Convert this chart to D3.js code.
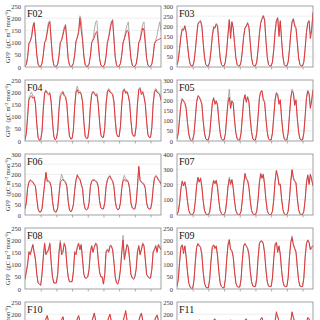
<!DOCTYPE html>
<html><head><meta charset="utf-8">
<script src="https://cdn.jsdelivr.net/npm/d3@7"></script>
<style>html,body{margin:0;padding:0;background:#fff;}svg{display:block;}</style>
</head><body>
<svg id="c" width="320" height="320"></svg>
<script>
// Monthly GPP (gC m-2 mon-1), 105 months per site; Obs = grey, Sim = red
const f02Obs = [3,10,42,98,108,128,170,185,125,50,12,2, 2,15,50,102,115,150,185,190,115,40,8,2, 3,12,45,100,112,140,165,175,110,35,8,2, 3,15,50,105,125,150,210,190,120,45,10,2, 3,12,45,100,115,150,185,190,110,38,8,2, 3,12,45,100,125,160,185,195,120,40,8,2, 3,14,50,100,120,150,170,185,110,35,8,2, 3,12,45,100,115,150,175,185,110,35,8,2, 3,12,45,98,110,130,160,185,150];
const f02Sim = [3,10,40,95,105,120,160,180,120,50,12,2, 2,15,50,100,110,140,175,185,110,40,8,2, 3,12,45,100,110,130,155,170,105,35,8,2, 3,15,50,105,120,140,200,150,110,45,10,2, 3,12,45,100,110,120,140,145,95,35,8,2, 3,12,45,100,120,150,180,190,115,40,8,2, 3,14,50,100,115,135,150,145,90,35,8,2, 3,12,45,100,110,135,160,150,95,35,8,2, 3,12,45,95,105,110,112,115,118];
const f03Obs = [10,35,92,155,190,185,205,175,112,50,15,5, 5,25,82,155,215,225,230,205,122,50,12,5, 5,25,82,152,200,195,215,205,122,45,12,5, 5,25,82,165,235,170,225,195,118,45,12,5, 5,25,82,155,195,205,220,200,122,45,12,5, 5,25,87,165,220,240,255,235,132,50,12,5, 5,25,87,175,230,245,180,230,132,50,12,5, 5,25,87,170,225,240,210,195,122,45,12,5, 5,25,92,175,220,230,160,190,265];
const f03Sim = [10,35,90,150,185,180,200,170,110,50,15,5, 5,25,80,150,210,220,225,200,120,50,12,5, 5,25,80,150,195,190,210,200,120,45,12,5, 5,25,80,160,230,140,220,190,115,45,12,5, 5,25,80,150,190,200,215,195,120,45,12,5, 5,25,85,160,215,235,250,230,130,50,12,5, 5,25,85,170,225,240,150,225,130,50,12,5, 5,25,85,165,220,235,200,190,120,45,12,5, 5,25,90,170,215,225,140,180,270];
const f04Obs = [5,30,105,180,190,200,185,185,155,70,15,3, 5,40,135,200,210,200,195,200,165,80,20,5, 10,40,135,190,200,205,190,185,155,75,20,8, 10,45,145,205,225,205,205,195,165,80,20,10, 12,50,145,195,205,200,190,195,155,80,25,15, 15,55,155,205,215,205,200,195,165,85,30,18, 18,60,155,210,215,200,205,190,160,85,30,20, 20,60,155,215,220,200,205,185,155,80,25,15, 15,55,155,205,215,205,200,195,170];
const f04Sim = [5,30,100,170,180,185,175,180,150,70,15,3, 5,40,130,195,205,195,190,195,160,80,20,5, 10,40,130,185,190,200,185,180,150,75,20,8, 10,45,140,200,210,195,200,190,160,80,20,10, 12,50,140,190,200,195,185,190,150,80,25,15, 15,55,150,200,210,200,195,190,160,85,30,18, 18,60,150,205,210,195,200,185,155,85,30,20, 20,60,150,210,215,190,200,180,150,80,25,15, 15,55,150,200,210,200,195,190,165];
const f05Obs = [10,40,112,185,210,200,190,165,92,35,8,2, 5,35,112,195,225,220,205,185,102,40,10,5, 5,35,112,190,215,190,200,180,102,40,10,5, 5,35,118,200,255,175,200,190,102,40,10,5, 5,40,122,205,230,200,220,195,112,45,10,5, 5,40,122,215,245,250,210,195,112,45,10,5, 5,40,122,205,240,230,190,205,112,45,10,5, 5,40,128,215,255,240,185,205,112,45,10,5, 5,40,122,215,250,235,170,205,255];
const f05Sim = [10,40,110,180,205,195,185,160,90,35,8,2, 5,35,110,190,220,215,200,180,100,40,10,5, 5,35,110,185,210,180,195,175,100,40,10,5, 5,35,115,190,215,160,195,185,100,40,10,5, 5,40,120,200,225,190,215,190,110,45,10,5, 5,40,120,210,240,245,200,190,110,45,10,5, 5,40,120,200,235,225,180,200,110,45,10,5, 5,40,125,210,245,235,175,200,110,45,10,5, 5,40,120,210,245,230,160,200,250];
const f06Obs = [30,62,135,165,175,170,165,155,142,80,30,15, 15,32,95,155,205,170,170,165,142,70,25,15, 15,37,105,170,200,180,170,165,142,70,25,15, 25,52,125,175,200,185,180,155,132,60,30,25, 30,62,142,170,175,175,170,165,142,70,35,30, 30,62,142,175,190,195,180,170,142,70,35,25, 30,62,135,175,195,175,175,165,132,60,35,30, 30,62,142,235,175,165,160,155,132,60,35,30, 30,62,135,185,195,190,175,170,155];
const f06Sim = [30,60,130,160,170,165,160,150,140,80,30,15, 15,30,90,150,210,165,165,160,140,70,25,15, 15,35,100,160,170,175,165,160,140,70,25,15, 25,50,120,170,195,180,175,150,130,60,30,25, 30,60,140,165,170,170,165,160,140,70,35,30, 30,60,140,170,185,190,175,165,140,70,35,25, 30,60,130,170,175,165,170,160,130,60,35,30, 30,60,140,240,170,160,155,150,130,60,35,30, 30,60,130,180,190,185,170,165,150];
const f07Obs = [5,20,82,175,225,195,220,172,92,30,8,2, 3,20,92,195,250,220,245,188,97,30,8,2, 3,20,92,185,230,210,230,182,92,30,8,2, 3,20,92,190,250,210,235,178,92,30,8,2, 3,25,102,205,275,240,230,182,97,30,8,2, 3,25,102,215,275,245,270,198,102,30,8,2, 3,25,102,225,295,260,205,205,107,35,8,2, 3,25,107,225,300,245,225,212,112,35,8,2, 3,25,102,215,265,210,270,235,195];
const f07Sim = [5,20,80,170,220,190,215,170,90,30,8,2, 3,20,90,190,245,215,240,185,95,30,8,2, 3,20,90,180,225,205,225,180,90,30,8,2, 3,20,90,185,235,200,230,175,90,30,8,2, 3,25,100,200,270,235,225,180,95,30,8,2, 3,25,100,210,270,240,265,195,100,30,8,2, 3,25,100,220,290,255,195,200,105,35,8,2, 3,25,105,220,295,240,220,210,110,35,8,2, 3,25,100,210,260,200,265,230,190];
const f08Obs = [40,72,105,155,145,165,185,155,122,60,25,20, 15,62,135,190,145,155,165,190,112,50,25,25, 25,62,155,200,150,155,190,175,102,50,30,30, 30,72,155,150,175,190,165,185,122,60,45,45, 50,82,155,180,155,175,190,185,122,70,50,50, 20,62,155,165,155,180,180,165,112,50,25,20, 40,82,155,220,130,155,185,175,122,60,45,40, 50,82,155,180,145,165,190,180,122,60,50,45, 45,82,155,165,180,155,185,175,162];
const f08Sim = [40,70,100,150,140,160,180,150,120,60,25,20, 15,60,130,185,140,150,160,185,110,50,25,25, 25,60,150,190,140,150,185,170,100,50,30,30, 30,70,150,140,170,185,160,180,120,60,45,45, 50,80,150,175,150,170,185,180,120,70,50,50, 20,60,150,160,150,175,175,160,110,50,25,20, 40,80,150,200,120,150,180,170,120,60,45,40, 50,80,150,175,140,160,185,175,120,60,50,45, 45,80,150,160,175,150,180,170,160];
const f09Obs = [10,42,112,175,182,160,178,135,72,25,8,3, 3,37,112,175,188,180,175,145,72,25,8,5, 5,42,118,175,182,170,178,140,72,25,10,5, 5,42,122,185,205,165,160,135,72,25,10,8, 8,42,122,180,188,178,170,145,77,30,12,10, 10,47,128,190,198,198,188,150,82,30,12,10, 10,47,128,185,192,160,178,145,77,30,12,10, 10,47,132,195,218,185,170,155,92,35,12,10, 10,47,132,190,202,192,165,175,178];
const f09Sim = [10,40,110,170,180,145,175,130,70,25,8,3, 3,35,110,170,185,175,170,140,70,25,8,5, 5,40,115,170,180,165,175,135,70,25,10,5, 5,40,120,180,200,160,155,130,70,25,10,8, 8,40,120,175,185,175,165,140,75,30,12,10, 10,45,125,185,195,195,185,145,80,30,12,10, 10,45,125,180,190,150,175,140,75,30,12,10, 10,45,130,190,210,180,165,150,90,35,12,10, 10,45,130,185,200,190,160,170,175];
const f10Obs = [10,42,112,155,165,172,168,142,82,30,10,5, 8,42,112,165,185,190,172,142,82,30,10,5, 8,42,112,165,180,188,168,142,82,30,10,5, 8,42,112,165,182,190,172,142,82,30,10,5, 8,42,118,170,190,200,178,148,82,30,10,5, 8,42,118,170,190,198,172,148,82,30,10,5, 8,47,122,175,195,205,178,152,87,30,10,5, 8,47,122,175,195,200,178,152,87,30,10,5, 8,47,122,175,190,198,178,152,92];
const f10Sim = [10,40,110,150,160,170,165,140,80,30,10,5, 8,40,110,160,180,195,170,140,80,30,10,5, 8,40,110,160,175,190,165,140,80,30,10,5, 8,40,110,160,180,195,170,140,80,30,10,5, 8,40,115,165,185,205,175,145,80,30,10,5, 8,40,115,165,185,200,170,145,80,30,10,5, 8,45,120,170,190,215,175,150,85,30,10,5, 8,45,120,170,190,205,175,150,85,30,10,5, 8,45,120,170,185,195,175,150,90];
const f11Obs = [5,32,102,155,168,172,162,132,72,25,8,3, 5,32,102,158,172,178,162,132,72,25,8,3, 5,32,102,158,178,182,168,132,72,25,8,3, 5,32,102,158,172,178,162,132,72,25,8,3, 5,32,108,162,178,182,168,138,72,25,8,3, 5,32,108,162,182,188,168,138,72,25,8,3, 5,37,112,172,200,192,172,142,77,25,8,3, 5,37,112,172,205,188,172,142,77,25,8,3, 5,37,112,168,188,182,172,142,82];
const f11Sim = [5,30,100,150,165,170,160,130,70,25,8,3, 5,30,100,155,170,175,160,130,70,25,8,3, 5,30,100,155,175,180,165,130,70,25,8,3, 5,30,100,155,170,175,160,130,70,25,8,3, 5,30,105,160,175,180,165,135,70,25,8,3, 5,30,105,160,180,185,165,135,70,25,8,3, 5,35,110,170,210,190,170,140,75,25,8,3, 5,35,110,170,210,185,170,140,75,25,8,3, 5,35,110,165,185,180,170,140,80];

const panelNames = ["F02","F03","F04","F05","F06","F07","F08","F09","F10","F11"];
const panelYMax  = [250,300,250,300,300,400,250,250,250,250];
const panelYStep = [50,50,50,50,50,100,50,50,50,50];
const obsSeries = [f02Obs,f03Obs,f04Obs,f05Obs,f06Obs,f07Obs,f08Obs,f09Obs,f10Obs,f11Obs];
const simSeries = [f02Sim,f03Sim,f04Sim,f05Sim,f06Sim,f07Sim,f08Sim,f09Sim,f10Sim,f11Sim];
const nMonths = 105;
const yLabel = "GPP  (gC m\u207B\u00B2 mon\u207B\u00B9)";

const svg = d3.select("#c");
svg.append("rect").attr("width",320).attr("height",320).attr("fill","#fff");
const serif = "'Liberation Serif','Times New Roman',serif";
const W = 136, H = 61;

panelNames.forEach((name,i)=>{
  const col = i%2, row = Math.floor(i/2);
  const x0 = col ? 177 : 25, y0 = 6 + row*74;
  const x = d3.scaleLinear().domain([0,nMonths-1]).range([x0,x0+W]);
  const y = d3.scaleLinear().domain([0,panelYMax[i]]).range([y0+H,y0]);
  const g = svg.append("g");
  const ticks = d3.range(0,panelYMax[i]+1,panelYStep[i]);
  // gridlines
  g.selectAll("line.grid").data(ticks.filter(t=>t>0&&t<panelYMax[i])).join("line")
    .attr("x1",x0).attr("x2",x0+W).attr("y1",d=>y(d)).attr("y2",d=>y(d))
    .attr("stroke","#e2e2e2").attr("stroke-width",0.6);
  // y axis labels (only those that land inside the 320px picture)
  const ax = g.append("g").attr("transform",`translate(${x0},0)`)
    .call(d3.axisLeft(y).tickValues(ticks.filter(t=>y(t)<317)).tickSize(0).tickPadding(4));
  ax.select(".domain").remove();
  ax.selectAll("text").attr("font-family",serif).attr("font-size",6.5).attr("fill","#333");
  // x ticks (yearly)
  const xAx = g.append("g").attr("transform",`translate(0,${y0+H})`)
    .call(d3.axisBottom(x).tickValues(d3.range(12,nMonths,12)).tickSize(2.5).tickFormat(""));
  xAx.select(".domain").remove();
  xAx.selectAll("line").attr("stroke","#777").attr("stroke-width",0.6);
  // clip
  const cid = "clip"+i;
  svg.append("clipPath").attr("id",cid).append("rect").attr("x",x0).attr("y",y0).attr("width",W).attr("height",H);
  const line = d3.line().x((d,j)=>x(j)).y(d=>y(d));
  const lg = g.append("g").attr("clip-path",`url(#${cid})`);
  lg.append("path").datum(obsSeries[i]).attr("d",line).attr("fill","none")
    .attr("stroke","#9a9a9a").attr("stroke-width",0.8);
  lg.append("path").datum(simSeries[i]).attr("d",line).attr("fill","none")
    .attr("stroke","#e62e32").attr("stroke-width",0.95);
  // frame
  g.append("rect").attr("x",x0).attr("y",y0).attr("width",W).attr("height",H)
    .attr("fill","none").attr("stroke","#8a8a8a").attr("stroke-width",0.8);
  // panel label
  g.append("text").attr("x",x0+2).attr("y",y0+11).text(name)
    .attr("font-family",serif).attr("font-size",10).attr("fill","#111");
  // y-axis title (left column)
  if(!col){
    g.append("text").attr("transform",`translate(10,${y0+H/2}) rotate(-90)`)
      .attr("text-anchor","middle").text(yLabel)
      .attr("font-family",serif).attr("font-size",6.3).attr("fill","#333")
      .style("white-space","pre");
  }
});
</script>
</body></html>
